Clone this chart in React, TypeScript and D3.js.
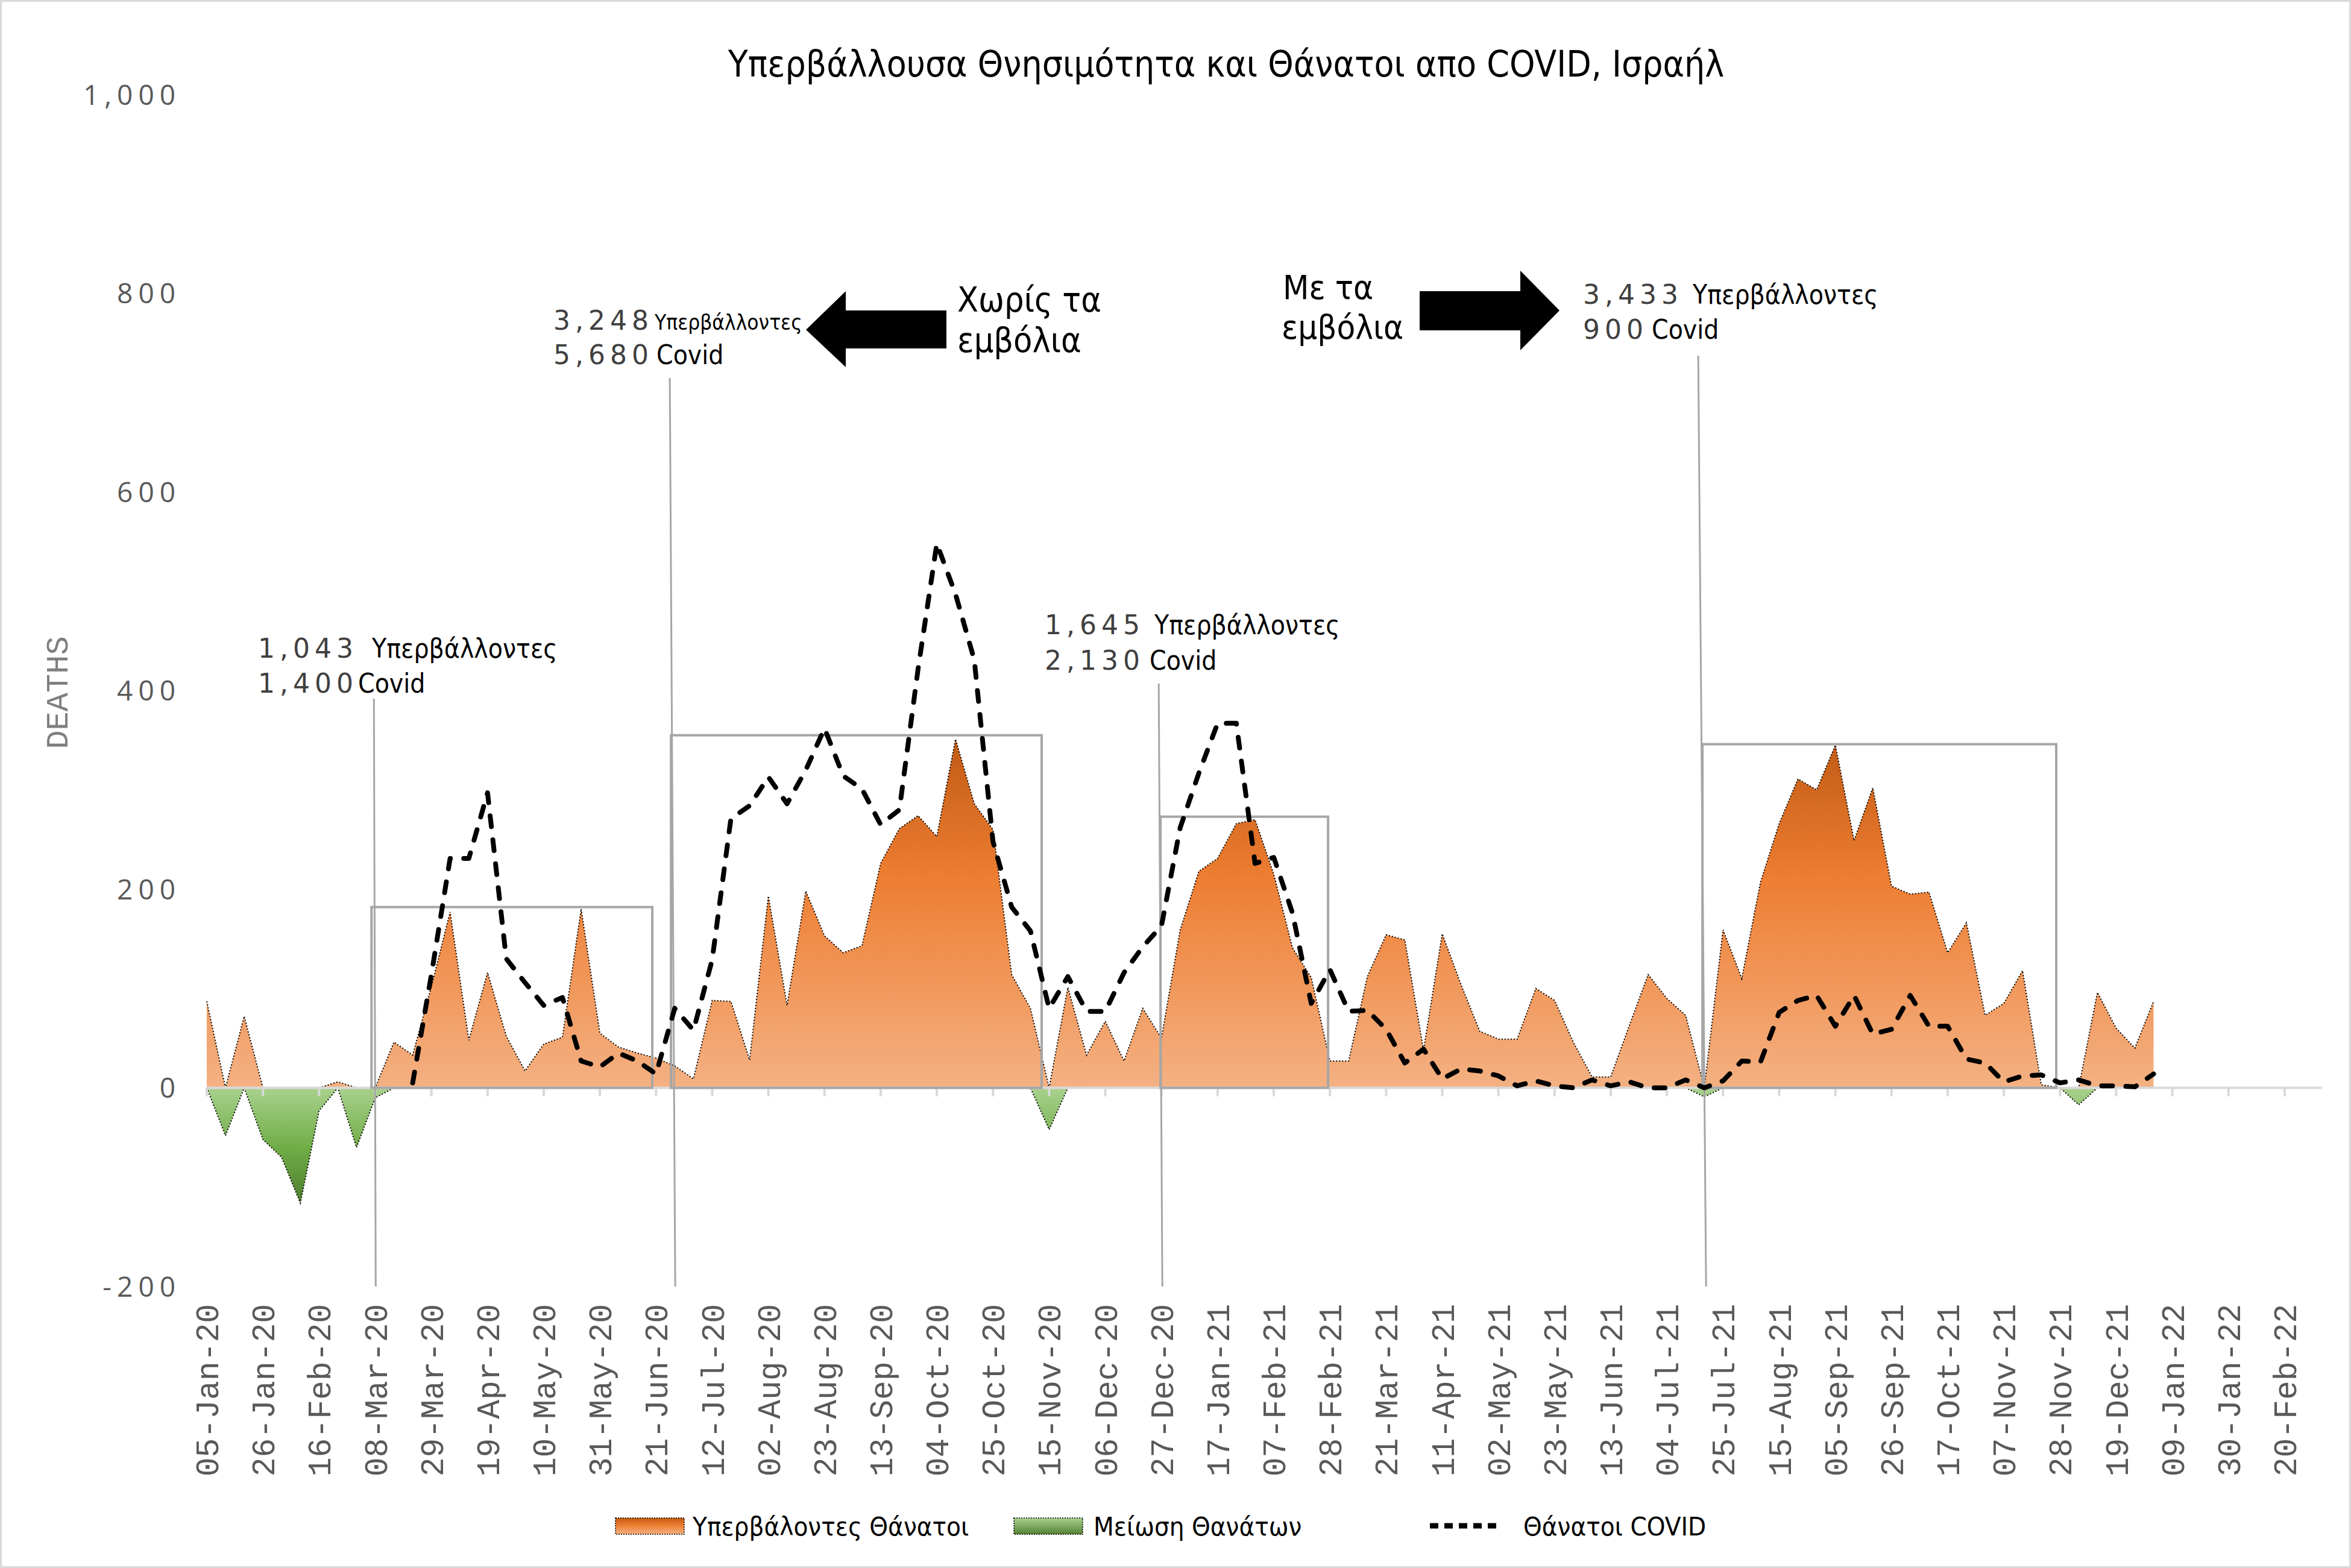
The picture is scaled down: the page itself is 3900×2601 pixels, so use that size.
import React, { useEffect } from 'react';
import * as d3 from 'd3';

// weekly series, first week starting 05-Jan-20
const firstWeek = '2020-01-05';
const lastAxisDay = '2022-03-06';

// excess deaths per week (positive part drawn orange, negative part green)
const excessDeaths = [
  87, -48, 72, -52, -70, -116, -23, 6, -60, -10,
  46, 33, 102, 177, 48, 116, 52, 17, 44, 51,
  180, 55, 41, 35, 30, 22, 9, 88, 87, 28,
  193, 83, 198, 153, 136, 143, 226, 261, 274, 253,
  351, 286, 260, 114, 80, -42, 101, 33, 67, 27,
  80, 50, 159, 218, 231, 266, 270, 215, 141, 111,
  27, 27, 112, 154, 149, 38, 155, 104, 57, 49,
  49, 100, 88, 46, 11, 11, 63, 114, 90, 73,
  -9, 159, 110, 207, 266, 311, 300, 345, 249, 302,
  203, 195, 197, 136, 166, 73, 85, 118, 3, 0,
  -17, 96, 60, 40, 87,
];

// reported COVID deaths per week
const covidDeaths: (number | null)[] = [
  null, null, null, null, null, null, null, null, null, null,
  null, 5, 114, 231, 231, 297, 130, 106, 83, 91,
  27, 21, 35, 27, 14, 80, 58, 129, 271, 284,
  313, 286, 320, 362, 314, 301, 265, 280, 422, 548,
  497, 431, 248, 182, 158, 80, 112, 77, 77, 116,
  142, 163, 262, 317, 367, 367, 226, 232, 176, 85,
  119, 77, 78, 59, 25, 39, 9, 19, 17, 12,
  2, 7, 2, 0, 8, 2, 6, 0, 0, 8,
  0, 7, 27, 26, 76, 88, 93, 62, 93, 54,
  59, 93, 62, 62, 29, 25, 6, 12, 13, 5,
  8, 2, 2, 1, 14,
];

const tickLabels = [
  '05-Jan-20', '26-Jan-20', '16-Feb-20', '08-Mar-20', '29-Mar-20', '19-Apr-20',
  '10-May-20', '31-May-20', '21-Jun-20', '12-Jul-20', '02-Aug-20', '23-Aug-20',
  '13-Sep-20', '04-Oct-20', '25-Oct-20', '15-Nov-20', '06-Dec-20', '27-Dec-20',
  '17-Jan-21', '07-Feb-21', '28-Feb-21', '21-Mar-21', '11-Apr-21', '02-May-21',
  '23-May-21', '13-Jun-21', '04-Jul-21', '25-Jul-21', '15-Aug-21', '05-Sep-21',
  '26-Sep-21', '17-Oct-21', '07-Nov-21', '28-Nov-21', '19-Dec-21', '09-Jan-22',
  '30-Jan-22', '20-Feb-22',
];

const yTicks = [-200, 0, 200, 400, 600, 800, 1000];

// highlighted periods: week range, box height, totals
const periodFrom = [8.8, 24.8, 50.95, 79.9];
const periodTo = [23.8, 44.6, 59.9, 98.8];
const periodTop = [182, 355, 273, 346];
const periodExcess = [1043, 3248, 1645, 3433];
const periodCovid = [1400, 5680, 2130, 900];

const W = 3900;
const H = 2601;
const SANS = 'DejaVu Sans';
const MONO = 'Liberation Mono';

// where each period's label sits
const labelPos = [
  { numX: 428, wordX: 617, covidX: 594, y1: 1091, y2: 1149, wordSize: 44, lineTop: 1159, dx: [4, 7] },
  { numX: 918, wordX: 1086, covidX: 1089, y1: 547, y2: 604, wordSize: 35, lineTop: 627, dx: [-2, 7] },
  { numX: 1733, wordX: 1915, covidX: 1907, y1: 1052, y2: 1111, wordSize: 44, lineTop: 1134, dx: [-3, 3] },
  { numX: 2626, wordX: 2808, covidX: 2740, y1: 504, y2: 562, wordSize: 44, lineTop: 590, dx: [-7, 6] },
];

export default function App() {
  useEffect(() => {
    document.body.style.margin = '0';
    document.body.style.overflow = 'hidden';
  }, []);

  const start = d3.utcParse('%Y-%m-%d')(firstWeek)!;
  const end = d3.utcParse('%Y-%m-%d')(lastAxisDay)!;
  const weekDate = (w: number) => new Date(start.getTime() + w * 7 * 864e5);
  const parseTick = d3.utcParse('%d-%b-%y');

  const x = d3.scaleUtc().domain([start, end]).range([343, 3852]);
  const y = d3.scaleLinear().domain([-200, 1000]).range([2134, 157]);
  const fmt = d3.format(',');

  const posArea = d3.area<number>()
    .x((_, i) => x(weekDate(i)))
    .y0(y(0))
    .y1(d => y(Math.max(d, 0)));
  const negArea = d3.area<number>()
    .x((_, i) => x(weekDate(i)))
    .y0(y(0))
    .y1(d => y(Math.min(d, 0)));
  const posLine = d3.line<number>()
    .x((_, i) => x(weekDate(i)))
    .y(d => y(Math.max(d, 0)));
  const negLine = d3.line<number>()
    .x((_, i) => x(weekDate(i)))
    .y(d => y(Math.min(d, 0)));
  const covidLine = d3.line<number | null>()
    .defined(d => d != null)
    .x((_, i) => x(weekDate(i)))
    .y(d => y(d as number));

  const y0 = y(0);

  return (
    <svg width={W} height={H} style={{ position: 'absolute', left: 0, top: 0, display: 'block' }}>
      <defs>
        <linearGradient id="orangeFill" gradientUnits="userSpaceOnUse" x1="0" x2="0" y1={y(0)} y2={y(355)}>
          <stop offset="0" stopColor="#F4B183" />
          <stop offset="0.6" stopColor="#ED7D31" />
          <stop offset="1" stopColor="#C05A14" />
        </linearGradient>
        <linearGradient id="greenFill" gradientUnits="userSpaceOnUse" x1="0" x2="0" y1={y(0)} y2={y(-120)}>
          <stop offset="0" stopColor="#A9D18E" />
          <stop offset="0.5" stopColor="#70AD47" />
          <stop offset="1" stopColor="#4B7A2B" />
        </linearGradient>
        <linearGradient id="orangeSwatch" x1="0" x2="0" y1="0" y2="1">
          <stop offset="0" stopColor="#C55A11" />
          <stop offset="0.45" stopColor="#ED7D31" />
          <stop offset="1" stopColor="#F4B183" />
        </linearGradient>
        <linearGradient id="greenSwatch" x1="0" x2="0" y1="0" y2="1">
          <stop offset="0" stopColor="#A9D18E" />
          <stop offset="1" stopColor="#548235" />
        </linearGradient>
      </defs>

      <rect x={1.5} y={1.5} width={W - 3} height={H - 3} fill="#fff" stroke="#D9D9D9" strokeWidth={3} />

      <text x={2034} y={127} textAnchor="middle" fontFamily={SANS} fontStretch="condensed" fontSize={60} fill="#000">
        Υπερβάλλουσα Θνησιμότητα και Θάνατοι απο COVID, Ισραήλ
      </text>

      {/* y axis labels */}
      {yTicks.map(t => (
        <text key={t} x={300} y={y(t)} dy="0.36em" textAnchor="end" fontFamily="Open Sans" fontSize={46}
          letterSpacing={9} fill="#595959">
          {fmt(t).replace('−', '-')}
        </text>
      ))}
      <text transform={`translate(93,1149) rotate(-90)`} textAnchor="middle" dy="0.36em" fontFamily={MONO}
        fontSize={52} fill="#7F7F7F">DEATHS</text>

      {/* areas */}
      <path d={posArea(excessDeaths) ?? ''} fill="url(#orangeFill)" />
      <path d={negArea(excessDeaths) ?? ''} fill="url(#greenFill)" />
      <path d={posLine(excessDeaths) ?? ''} fill="none" stroke="#000" strokeWidth={2} strokeDasharray="2 3" />
      <path d={negLine(excessDeaths) ?? ''} fill="none" stroke="#000" strokeWidth={2} strokeDasharray="2 3" />

      {/* x axis */}
      <line x1={x(start)} x2={x(end)} y1={y0} y2={y0} stroke="#D9D9D9" strokeWidth={4} />
      {tickLabels.map(lbl => {
        const tx = x(parseTick(lbl)!);
        return (
          <g key={lbl}>
            <line x1={tx} x2={tx} y1={y0} y2={y0 + 14} stroke="#D9D9D9" strokeWidth={4} />
            <text transform={`translate(${tx},2163) rotate(-90)`} textAnchor="end" dy="0.36em"
              fontFamily={MONO} fontSize={53} fill="#595959">{lbl}</text>
          </g>
        );
      })}

      {/* period boxes and labels */}
      {periodFrom.map((from, i) => {
        const x0 = x(weekDate(from));
        const x1 = x(weekDate(periodTo[i]));
        const lp = labelPos[i];
        return (
          <g key={i}>
            <rect x={x0} y={y(periodTop[i])} width={x1 - x0} height={y0 - y(periodTop[i])}
              fill="none" stroke="#A6A6A6" strokeWidth={4} />
            <line x1={x0 + lp.dx[0]} y1={lp.lineTop} x2={x0 + lp.dx[1]} y2={y(-200)} stroke="#A6A6A6" strokeWidth={3} />
            <text x={lp.numX} y={lp.y1} fontFamily={SANS} fontSize={44} letterSpacing={8} fill="#404040">
              {fmt(periodExcess[i])}
            </text>
            <text x={lp.wordX} y={lp.y1} fontFamily={SANS} fontStretch="condensed" fontSize={lp.wordSize} fill="#000">
              Υπερβάλλοντες
            </text>
            <text x={lp.numX} y={lp.y2} fontFamily={SANS} fontSize={44} letterSpacing={8} fill="#404040">
              {fmt(periodCovid[i])}
            </text>
            <text x={lp.covidX} y={lp.y2} fontFamily={SANS} fontStretch="condensed" fontSize={44} fill="#000">
              Covid
            </text>
          </g>
        );
      })}

      {/* covid deaths */}
      <path d={covidLine(covidDeaths) ?? ''} fill="none" stroke="#000" strokeWidth={8}
        strokeDasharray="18 22" strokeLinecap="round" strokeLinejoin="round" />

      {/* arrows */}
      <path d="M1337,547 L1403,483 L1403,515 L1570,515 L1570,578 L1403,578 L1403,609 Z" fill="#000" />
      <text fontFamily={SANS} fontStretch="condensed" fontSize={57} fill="#000">
        <tspan x={1588} y={517}>Χωρίς τα</tspan>
        <tspan x={1588} y={584}>εμβόλια</tspan>
      </text>
      <path d="M2587,515 L2522,449 L2522,483 L2355,483 L2355,548 L2522,548 L2522,581 Z" fill="#000" />
      <text fontFamily={SANS} fontStretch="condensed" fontSize={56} fill="#000">
        <tspan x={2128} y={496}>Με τα</tspan>
        <tspan x={2126} y={562}>εμβόλια</tspan>
      </text>

      {/* legend */}
      <rect x={1021} y={2518} width={114} height={27} fill="url(#orangeSwatch)" stroke="#000" strokeWidth={1.5} strokeDasharray="2 2" />
      <text x={1149} y={2547} fontFamily={SANS} fontStretch="condensed" fontSize={43.5} fill="#000">Υπερβάλοντες Θάνατοι</text>
      <rect x={1682} y={2518} width={114} height={27} fill="url(#greenSwatch)" stroke="#000" strokeWidth={1.5} strokeDasharray="2 2" />
      <text x={1814} y={2547} fontFamily={SANS} fontStretch="condensed" fontSize={43.5} fill="#000">Μείωση Θανάτων</text>
      <line x1={2372} x2={2492} y1={2531} y2={2531} stroke="#000" strokeWidth={9} strokeDasharray="14 10" />
      <text x={2527} y={2547} fontFamily={SANS} fontStretch="condensed" fontSize={43.5} fill="#000">Θάνατοι COVID</text>
    </svg>
  );
}
